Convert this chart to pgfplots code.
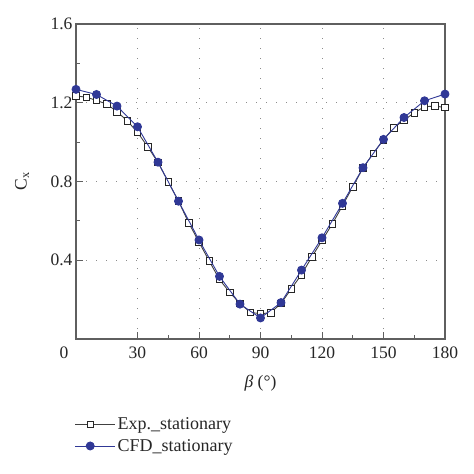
\documentclass[border=0pt]{standalone}
\usepackage{pgfplots}
\pgfplotsset{compat=1.18}
\usepackage{fontspec}
\setmainfont{Liberation Serif}
\definecolor{cfdblue}{RGB}{48,56,150}
\definecolor{framegray}{RGB}{95,95,95}
\begin{document}
\begin{tikzpicture}
\begin{axis}[
  scale only axis,
  width=369pt, height=315pt,
  at={(0,0)}, anchor=south west,
  xmin=0, xmax=180, ymin=0, ymax=1.6,
  xtick={30,60,...,180},
  extra x ticks={0},
  extra x tick labels={0},
  extra x tick style={xticklabel style={xshift=-12pt}, grid=none},
  minor x tick num=1,
  ytick={0.4,0.8,1.2,1.6},
  yticklabels={0.4,0.8,1.2,1.6},
  minor y tick num=1,
  tick align=inside, tick pos=left,
  major tick length=7pt, minor tick length=4pt,
  axis line style={framegray, line width=1.1pt},
  every tick/.style={framegray, line width=0.9pt},
  grid=major,
  major grid style={gray!90, line width=1pt, dash pattern=on 1pt off 9pt},
  /pgf/number format/assume math mode=true,
  tick label style={font=\fontsize{17.5}{20}\selectfont, text=black!85},
  xticklabel style={yshift=-4pt},
  label style={font=\fontsize{17.5}{20}\selectfont, text=black!85},
  xlabel={\textit{β} (°)},
  ylabel={C\textsubscript{x}},
  xlabel style={at={(axis description cs:0.5,-0.139)}, anchor=center},
  ylabel style={at={(axis description cs:-0.146,0.5)}, anchor=center},
  clip mode=individual,
  legend cell align=left,
  legend image code/.code={\path (0pt,0pt) -- (40pt,0pt);\draw[mark repeat=2,mark phase=2,#1] plot coordinates {(0pt,0pt) (15pt,0pt) (30pt,0pt)};},
  legend style={draw=none, fill=none, at={(axis description cs:-0.012,-0.237)}, anchor=north west,
    font=\fontsize{18}{21}\selectfont, text=black!85, row sep=4pt},
]
\addplot[black!75, line width=0.9pt, mark=square*, mark size=3.3pt,
  mark options={fill=white, draw=black!85, line width=0.8pt}] coordinates {
(0,1.235) (5,1.228) (10,1.212) (15,1.193) (20,1.155) (25,1.108) (30,1.050)
(35,0.976) (40,0.897) (45,0.798) (50,0.700) (55,0.590) (60,0.492) (65,0.396)
(70,0.302) (75,0.237) (80,0.180) (85,0.136) (90,0.128) (95,0.134) (100,0.180)
(105,0.255) (110,0.327) (115,0.416) (120,0.500) (125,0.584) (130,0.677)
(135,0.773) (140,0.868) (145,0.943) (150,1.012) (155,1.073) (160,1.112)
(165,1.149) (170,1.180) (175,1.183) (180,1.176)
};
\addlegendentry{Exp.\_stationary}
\addplot[cfdblue, line width=0.9pt, mark=*, mark size=4pt,
  mark options={fill=cfdblue, draw=cfdblue}] coordinates {
(0,1.268) (10,1.242) (20,1.183) (30,1.078) (40,0.898) (50,0.700) (60,0.503)
(70,0.318) (80,0.177) (90,0.107) (100,0.185) (110,0.350) (120,0.514)
(130,0.689) (140,0.870) (150,1.014) (160,1.125) (170,1.210) (180,1.244)
};
\addlegendentry{CFD\_stationary}
\end{axis}
\pgfresetboundingbox
\path[use as bounding box] (-76pt,-135pt) rectangle (398pt,339pt);
\end{tikzpicture}
\end{document}
